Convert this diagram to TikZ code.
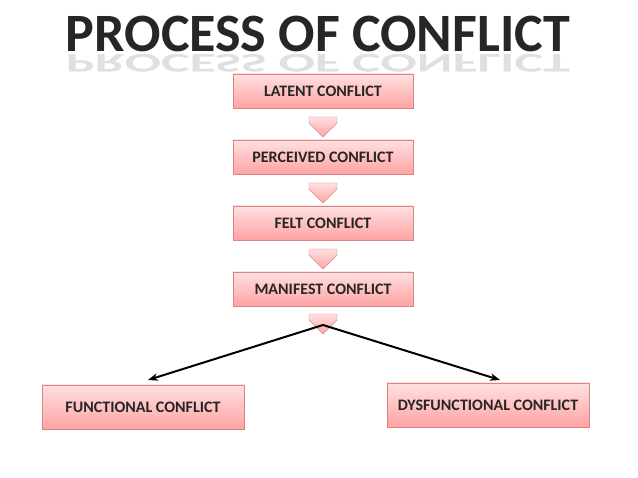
\documentclass[tikz,border=0pt]{standalone}
\usepackage{fontspec}
\setmainfont{Carlito}
\usetikzlibrary{shapes.arrows,arrows.meta,positioning}
\definecolor{boxLine}{HTML}{D98585}
\definecolor{boxTop}{HTML}{FFE0E0}
\definecolor{boxBot}{HTML}{FFA3A3}
\tikzset{
	stepBox/.style={
		draw=boxLine,
		top color=boxTop,
		bottom color=boxBot,
		minimum width=180pt,
		minimum height=34pt,
		font=\bfseries\fontsize{16}{18}\selectfont,
		text = black!85
	},
	endBox/.style={
		stepBox,
		minimum width=202pt,
		minimum height=44pt
	},
	downArrow/.style={
		single arrow,
		shape border rotate=270,
		draw=boxLine,
		top color=boxTop,
		bottom color=boxBot,
		minimum height=20pt,
		minimum width=28pt,
		single arrow head extend=0pt,
		inner sep=2pt
	},
}
\begin{document}
\begin{tikzpicture}[x=1pt, y=-1pt]
\useasboundingbox (0,0) rectangle (638,478);

\node[font=\bfseries\fontsize{54}{54}\selectfont, text=black!85] (title) at (318,34){PROCESS OF CONFLICT};
\node[font=\bfseries\fontsize{54}{54}\selectfont, yscale=-0.5, opacity=0.12] (mirror) at (318,63){PROCESS OF CONFLICT};

\node[stepBox] (latent) at (323,91){LATENT CONFLICT};
\node[stepBox] (perceived) at (323,157){PERCEIVED CONFLICT};
\node[stepBox] (felt) at (323,223){FELT CONFLICT};
\node[stepBox] (manifest) at (323,289){MANIFEST CONFLICT};

\node[downArrow] (a1) at (323,120){};
\node[downArrow] (a2) at (323,186){};
\node[downArrow] (a3) at (323,252){};
\node[downArrow] (a4) at (323,317){};

\node[endBox] (functional) at (143,407){FUNCTIONAL CONFLICT};
\node[endBox] (dysfunctional) at (488,405){DYSFUNCTIONAL CONFLICT};

\coordinate (split) at (323,325);
\coordinate (leftEnd) at (148,380);
\coordinate (rightEnd) at (500,380);
\draw[line width=2pt, -{Stealth[length=10pt]}] (split) -- (leftEnd);
\draw[line width=2pt, -{Stealth[length=10pt]}] (split) -- (rightEnd);
\end{tikzpicture}
\end{document}
